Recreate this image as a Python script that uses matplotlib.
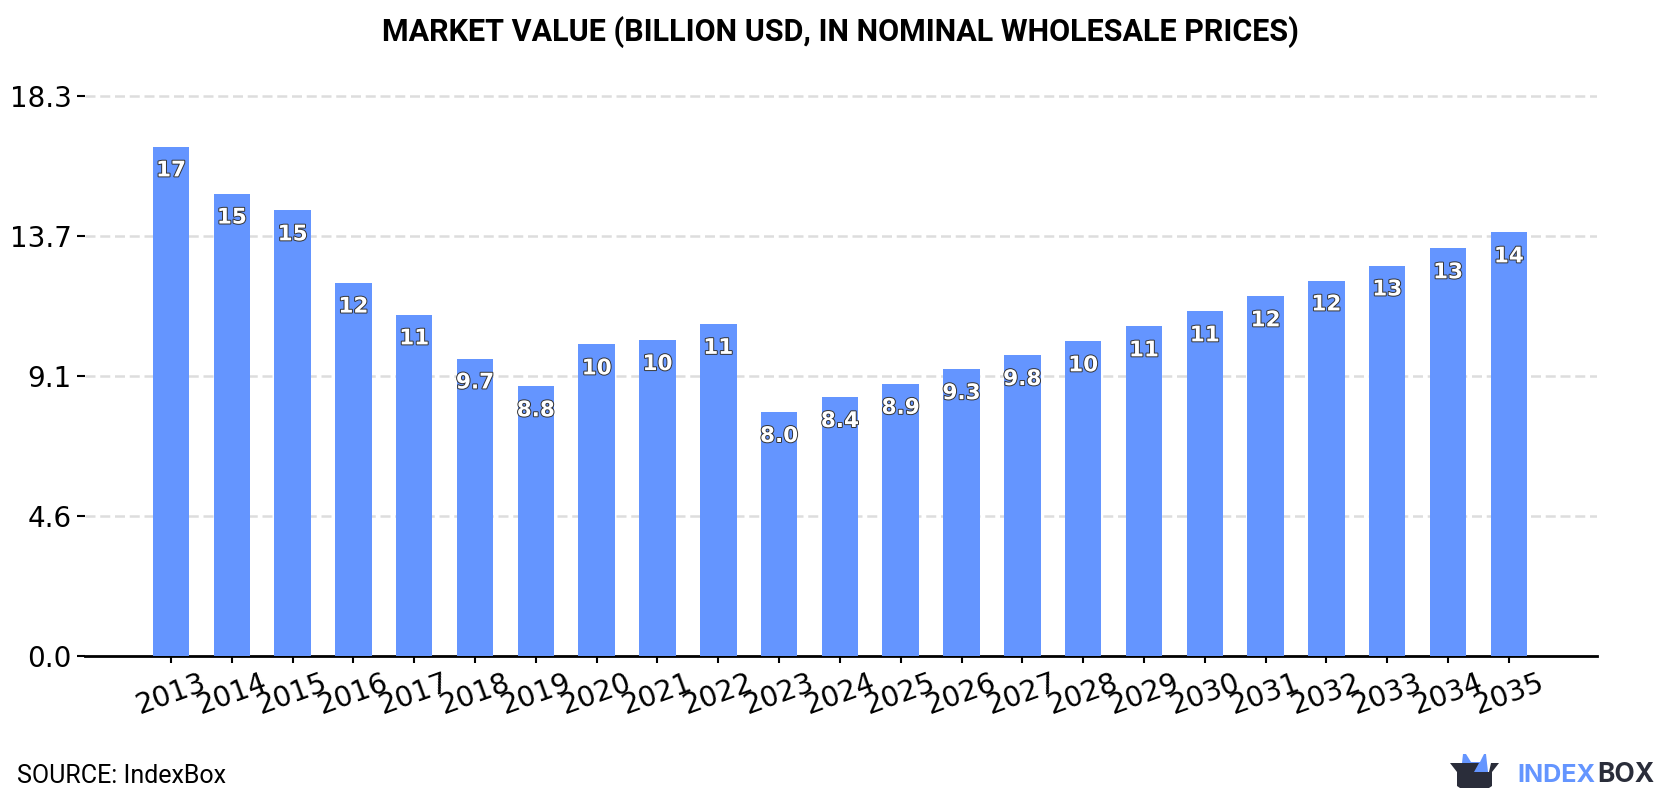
import matplotlib

matplotlib.use("Agg")

import matplotlib.patheffects as pe
import matplotlib.pyplot as plt
from matplotlib.patches import Polygon

years = [str(y) for y in range(2013, 2036)]
values = [16.65, 15.11, 14.56, 12.2, 11.16, 9.72, 8.81, 10.18, 10.32, 10.85, 7.97, 8.46,
          8.89, 9.37, 9.83, 10.28, 10.77, 11.26, 11.75, 12.27, 12.76, 13.32, 13.84]
bar_labels = ["17", "15", "15", "12", "11", "9.7", "8.8", "10", "10", "11", "8.0", "8.4",
              "8.9", "9.3", "9.8", "10", "11", "11", "12", "12", "13", "13", "14"]
y_ticks = [0.0, 4.575, 9.15, 13.725, 18.3]
y_tick_labels = ["0.0", "4.6", "9.1", "13.7", "18.3"]

BLUE = "#6495ff"
DARK = "#2a2d3a"
W, H = 1680, 800

fig = plt.figure(figsize=(W / 100, H / 100), dpi=100, facecolor="white")
ax = fig.add_axes([85 / W, (H - 656) / H, (1597 - 85) / W, 30.6 * 18.5 / H])

x = list(range(len(years)))
ax.bar(x, values, width=0.6, color=BLUE, zorder=3)

for i, (v, lab) in enumerate(zip(values, bar_labels)):
    ax.annotate(
        lab,
        (i, v),
        xytext=(0, -17.2),
        textcoords="offset points",
        ha="center",
        va="center",
        fontsize=15.5,
        fontweight="bold",
        family="DejaVu Sans",
        color="white",
        zorder=4,
        path_effects=[pe.withStroke(linewidth=1.4, foreground="#333333")],
    )

ax.set_xlim(-1.414, 23.45)
ax.set_ylim(0, 18.5)
ax.set_xticks(x)
ax.set_xticklabels(years, rotation=20, ha="center", fontsize=20.5, family="DejaVu Sans")
ax.set_yticks(y_ticks)
ax.set_yticklabels(y_tick_labels, fontsize=20, family="DejaVu Sans")
ax.tick_params(axis="y", length=5.8, width=1.5, pad=4)
ax.tick_params(axis="x", length=5, width=1.5, pad=4)

ax.grid(axis="y", color="#dddddd", linewidth=1.8, linestyle=(0, (4, 1.9)), zorder=1)
ax.get_ygridlines()[0].set_visible(False)

for side in ["left", "right", "top"]:
    ax.spines[side].set_visible(False)
ax.spines["bottom"].set_linewidth(2)

fig.text(0.5, 1 - 32 / H, "MARKET VALUE (BILLION USD, IN NOMINAL WHOLESALE PRICES)",
         ha="center", va="center", fontsize=22, fontweight="bold", family="Roboto", color="black")
fig.text(17 / W, 1 - 776 / H, "SOURCE: IndexBox", ha="left", va="center", fontsize=18,
         family="Roboto", color="black")

# logo, drawn in pixel coordinates on a transparent overlay
logo = fig.add_axes([0, 0, 1, 1], facecolor="none")
logo.set_xlim(0, W)
logo.set_ylim(H, 0)
logo.axis("off")
logo.add_patch(Polygon([(1461, 772), (1463, 754), (1466, 754), (1471, 762), (1480, 762),
                        (1484, 754), (1486, 754), (1488, 772)], closed=True, color=BLUE, lw=0))
logo.add_patch(Polygon([(1450, 763), (1479, 763), (1474, 772), (1489, 772), (1491, 763), (1499, 763),
                        (1492, 772), (1492, 786), (1489, 788), (1460, 788), (1457, 786), (1457, 772)],
                       closed=True, color=DARK, lw=0))
logo.text(1517, 775, "INDEX", ha="left", va="center", fontsize=18.2, fontweight="bold",
          family="Inter", color=BLUE)
logo.text(1597, 775, "BOX", ha="left", va="center", fontsize=19, fontweight="bold",
          family="Inter", color=DARK)

fig.savefig("out.png", dpi=100)
